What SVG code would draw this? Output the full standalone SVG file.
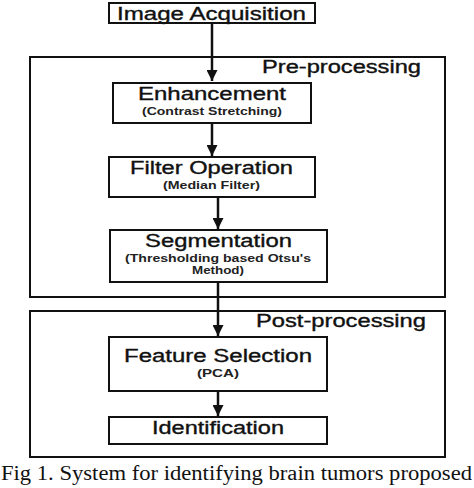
<svg xmlns="http://www.w3.org/2000/svg" width="474" height="488" viewBox="0 0 474 488">
<style>
.box{fill:#fff;stroke:#111;stroke-width:2}
.grp{fill:none;stroke:#111;stroke-width:2}
.t{font-family:"Liberation Sans","DejaVu Sans",sans-serif;font-size:17.5px;fill:#111;stroke:#111;stroke-width:0.35}
.s{font-family:"Liberation Sans","DejaVu Sans",sans-serif;font-size:11px;font-weight:bold;fill:#222}
.cap{font-family:"Liberation Serif","DejaVu Serif",serif;font-size:20px;fill:#111}
.ln{stroke:#111;stroke-width:2.5;fill:none}
</style>
<defs>
<marker id="ah" viewBox="0 0 10 10" refX="10" refY="5" markerWidth="4.4" markerHeight="4.4" markerUnits="strokeWidth" orient="auto">
<path d="M0,0 L10,5 L0,10 z" fill="#111"/>
</marker>
</defs>
<rect width="474" height="488" fill="#fff"/>
<g id="pre-processing">
<rect class="grp" x="30" y="57" width="415" height="240"/>
<text class="t" x="262" y="73" textLength="159" lengthAdjust="spacingAndGlyphs">Pre-processing</text>
</g>
<g id="post-processing">
<rect class="grp" x="30" y="311" width="415" height="146"/>
<text class="t" x="256" y="327" textLength="170" lengthAdjust="spacingAndGlyphs">Post-processing</text>
</g>
<g id="connectors">
<line class="ln" x1="212" y1="23" x2="212" y2="81" marker-end="url(#ah)"/>
<line class="ln" x1="212" y1="123" x2="212" y2="156" marker-end="url(#ah)"/>
<line class="ln" x1="218" y1="197" x2="218" y2="229" marker-end="url(#ah)"/>
<line class="ln" x1="218" y1="282" x2="218" y2="336" marker-end="url(#ah)"/>
<line class="ln" x1="218" y1="391" x2="218" y2="416" marker-end="url(#ah)"/>
</g>
<g id="image-acquisition">
<rect class="box" x="109" y="3" width="206" height="20"/>
<text class="t" x="117" y="19.5" textLength="189" lengthAdjust="spacingAndGlyphs">Image Acquisition</text>
</g>
<g id="enhancement">
<rect class="box" x="113" y="83" width="198" height="40"/>
<text class="t" x="138" y="100" textLength="148" lengthAdjust="spacingAndGlyphs">Enhancement</text>
<text class="s" x="142" y="115" textLength="140" lengthAdjust="spacingAndGlyphs">(Contrast Stretching)</text>
</g>
<g id="filter-operation">
<rect class="box" x="109" y="157" width="206" height="40"/>
<text class="t" x="130" y="174" textLength="163" lengthAdjust="spacingAndGlyphs">Filter Operation</text>
<text class="s" x="163" y="189" textLength="97" lengthAdjust="spacingAndGlyphs">(Median Filter)</text>
</g>
<g id="segmentation">
<rect class="box" x="110" y="230" width="217" height="52"/>
<text class="t" x="145" y="247" textLength="147" lengthAdjust="spacingAndGlyphs">Segmentation</text>
<text class="s" x="125" y="262" textLength="186" lengthAdjust="spacingAndGlyphs">(Thresholding based Otsu's</text>
<text class="s" x="192" y="274" textLength="52" lengthAdjust="spacingAndGlyphs">Method)</text>
</g>
<g id="feature-selection">
<rect class="box" x="109" y="337" width="218" height="54"/>
<text class="t" x="124" y="362" textLength="188" lengthAdjust="spacingAndGlyphs">Feature Selection</text>
<text class="s" x="197" y="377" textLength="42" lengthAdjust="spacingAndGlyphs">(PCA)</text>
</g>
<g id="identification">
<rect class="box" x="109" y="417" width="218" height="27"/>
<text class="t" x="152" y="434" textLength="132" lengthAdjust="spacingAndGlyphs">Identification</text>
</g>
<text class="cap" x="1" y="480" textLength="471" lengthAdjust="spacingAndGlyphs">Fig 1. System for identifying brain tumors proposed</text>
</svg>
